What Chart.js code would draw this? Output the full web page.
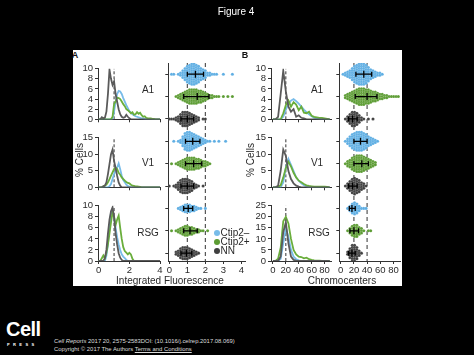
<!DOCTYPE html>
<html><head><meta charset="utf-8">
<script src="https://cdn.jsdelivr.net/npm/chart.js@4/dist/chart.umd.min.js"></script>
<style>
html,body{margin:0;padding:0;background:#000;}
#root{position:relative;width:474px;height:355px;background:#000;overflow:hidden;font-family:"Liberation Sans",Arial,Helvetica,sans-serif;}
canvas{position:absolute;}
.t{position:absolute;white-space:nowrap;line-height:1;color:#222;font-size:10px;}
.c{transform:translate(-50%,-50%);}
</style></head><body><div id="root">
<div style="position:absolute;left:73px;top:50px;width:329px;height:236px;background:#fff;"></div>
</div>
<script>
// ---------------- DATA ----------------
const categories = ['A1 Ctip2–','A1 Ctip2+','A1 NN','V1 Ctip2–','V1 Ctip2+','V1 NN','RSG Ctip2–','RSG Ctip2+','RSG NN'];
const regions = ['A1','V1','RSG'];
const seriesNames = ['Ctip2–','Ctip2+','NN'];

// Panel A histograms: Integrated Fluorescence bins
const binsA = [0,0.1,0.2,0.3,0.4,0.5,0.6,0.7,0.8,0.9,1.0,1.1,1.2,1.3,1.4,1.5,1.6,1.7,1.8,1.9,2.0,2.1,2.2,2.3,2.4,2.5,2.6,2.7,2.8,2.9,3.0,3.1,3.2,3.3,3.4,3.5,3.6,3.7,3.8,3.9,4.0];
const hA_A1_neg = [0,0,0,0,0,0,0,0,0,0, 1.5,3.5,5,5.6,5.5,5,4.2,3.5,2.8,2.2, 1.6,1.3,1,0.8,0.6,0.5,0.4,0.3,0.2,0.2, 0.1,0,0,0,0,0,0,0,0,0, 0];
const hA_A1_pos = [0,0,0,0.2,0,0,0,0,0,0.5, 3,3.5,4.3,4.2,4,3.5,3,2.6,2,1.8, 1.5,1.2,1.4,0.9,1,1.4,1.1,1.3,0.8,0.5, 0.6,0.3,0.2,0.2,0.2,0.1,0.1,0,0,0, 0];
const hA_A1_nn  = [0,0,0.4,0.2,0.3,1.5,5,9.8,8,6.8, 7.5,5,3.5,2,1,0.5,0.3,0.4,0.9,0.5, 0.2,0,0,0,0,0,0,0,0,0, 0,0,0,0,0,0,0,0,0,0, 0];
const hA_V1_neg = [0,0,0,0,0,0,0,0.3,1,2.5, 4,5,6,7.2,5.5,3.5,2.2,1.5,0.8,0.4, 0.2,0,0,0,0,0,0,0,0,0, 0,0,0,0,0,0,0,0,0,0, 0];
const hA_V1_pos = [0,0,0,0.3,0.5,0.8,1.5,2.5,3.5,4.5, 5.5,6,5.5,4.4,3.8,3,2.5,2,1.6,1.3, 1.2,0.8,0.5,0.4,0.3,0.3,0.2,0.1,0,0, 0,0,0,0,0,0,0,0,0,0, 0];
const hA_V1_nn  = [0,0,0,0.3,0.5,1.5,4,7,10,11.4, 8,5.8,3.5,1.5,0.5,0,0,0,0,0, 0,0,0,0,0,0,0,0,0,0, 0,0,0,0,0,0,0,0,0,0, 0];
const hA_RSG_neg= [0,0,0,0,0,1,3,6,8.8,8.5, 8,6,4.3,3,2,1.2,0.8,0.5,0.2,0, 0,0,0,0,0,0,0,0,0,0, 0,0,0,0,0,0,0,0,0,0, 0];
const hA_RSG_pos= [0,0,0.5,1,0.5,1.5,3,5,7,8.8, 8,6.5,7.5,8.2,6,4,2.5,1.8,1.5,1.2, 1.5,1.2,0.4,0,0,0,0,0,0,0, 0,0,0,0,0,0,0,0,0,0, 0];
const hA_RSG_nn = [0,0,0,0,0.5,2,5,7.5,9,9.7, 8,5,3,1.4,0.6,0.2,0,0,0,0, 0,0,0,0,0,0,0,0,0,0, 0,0,0,0,0,0,0,0,0,0, 0];

// Panel B histograms: Chromocenters bins
const binsB = [0,4,8,12,16,20,24,28,32,36,40,44,48,52,56,60,64,68,72,76,80,84,88];
const hB_A1_neg = [0,0,0,0,0.5,1.9,3,3.7,4,3.6, 3.1,2.5,1.9,1.4,1,0.6,0.3,0.2,0.1,0, 0,0,0];
const hB_A1_pos = [0,0,0,0,1.2,2.8,3.7,2.5,3.4,2.9, 1.8,2.5,1.3,1.2,1.5,0.7,0.5,0.4,0.3,0.3, 0.2,0.1,0];
const hB_A1_nn  = [0,0,0.5,5,9.6,5.5,2.5,1.5,2,0.5, 0.8,0.3,0.2,0,0,0,0,0,0,0, 0,0,0];
const hB_V1_neg = [0,0,0,0,1.5,6,8.6,6.8,4.9,3, 2,1.2,0.6,0.3,0,0,0,0,0,0, 0,0,0];
const hB_V1_pos = [0,0,0.2,0.6,3,5.8,7.7,6.3,4.4,3, 2,1.5,1,0.6,0.4,0.3,0.2,0.2,0.2,0.2, 0.2,0.1,0];
const hB_V1_nn  = [0,0,0.5,5,11.4,9.5,4.9,2.5,1.2,0.5, 0.2,0,0,0,0,0,0,0,0,0, 0,0,0];
const hB_RSG_neg= [0,0,0,1,8,15,11,5,2,0.8, 0.3,0,0,0,0,0,0,0,0,0, 0,0,0];
const hB_RSG_pos= [0,0,1,6,18,20,17,10,5,3, 2,1.8,1.2,1.5,0.8,0.5,0.3,0.2,0.2,0.1, 0.1,0,0];
const hB_RSG_nn = [0,0,0,2,13,17.5,8,2,0.5,0.2, 0,0,0,0,0,0,0,0,0,0, 0,0,0];

// Tick labels
const histYTicks = [[0,2,4,6,8,10],[0,5,10,15],[0,2,4,6,8,10]];
const histYTicksB = [[0,2,4,6,8,10],[0,5,10,15],[0,5,10,15,20,25]];
const histYMaxA = [10,15,10];
const histYMaxB = [10,15,25];
const xTicksHistA = [0,2,4];
const xTicksDotA = [0,1,2,3,4];
const xTicksB = [0,20,40,60,80];
const refLinesA = [1,2];
const refLinesB = [20,40];

// Dot (swarm) plots: number of stacked dots per value bin
const swarmStepA = 0.125, swarmStepB = 3.5;
const swA_A1neg = [0,1,1,0,1,2,4,6,8,9,10,10,9,8,6,5,4,2,2,1,1,1,0,0,1,0,0,0,1];
const swA_A1pos = [0,0,0,1,2,3,4,5,6,7,7,7,7,6,6,5,4,3,2,2,1,1,1,0,1,0,1,0,1];
const swA_A1nn  = [1,1,1,2,3,5,7,7,7,6,5,4,3,2,0,1,1];
const swA_V1neg = [0,0,1,0,1,2,5,8,9,9,8,7,6,5,4,3,2,1,1,0,1,0,1,0,0,1];
const swA_V1pos = [0,1,0,1,2,3,4,5,6,6,6,6,5,5,4,3,3,2,1];
const swA_V1nn  = [1,0,1,2,4,6,7,7,7,6,5,3,2,1,0,1];
const swA_RSGneg= [0,0,0,0,1,2,3,4,4,4,3,3,2,1,1,0,1];
const swA_RSGpos= [0,1,0,1,2,3,4,5,5,4,4,3,2,2,1,1,0,1];
const swA_RSGnn = [0,0,0,2,3,5,6,6,6,5,4,3,2,1];
const swB_A1neg = [0,1,2,3,4,6,8,9,10,10,10,9,7,5,4,3,2,2,1];
const swB_A1pos = [0,0,2,3,4,5,6,7,8,8,8,7,7,6,5,5,4,3,3,2,2,1,1,1,1,1];
const swB_A1nn  = [0,0,1,3,5,7,7,6,4,2,1,0,1,0,1];
const swB_V1neg = [0,0,1,3,5,7,8,9,9,9,8,7,5,4,3,2,1];
const swB_V1pos = [0,0,1,3,4,6,7,8,8,8,7,6,5,4,3,2];
const swB_V1nn  = [0,0,1,3,5,7,8,7,6,4,3,1];
const swB_RSGneg= [0,0,0,1,3,5,6,5,3,1,1,1];
const swB_RSGpos= [0,0,0,1,3,5,6,6,4,3,1,0,1,1];
const swB_RSGnn = [0,0,0,2,5,8,8,6,3,1];

// Error bars (mean, low, high) per category
const meanA = [1.45,1.55,1.0,1.3,1.35,1.0,1.05,1.15,0.95];
const lowA  = [1.0,0.8,0.65,0.9,0.9,0.65,0.8,0.8,0.65];
const highA = [1.9,2.2,1.35,1.7,1.8,1.35,1.3,1.55,1.25];
const meanB = [35,40,18,30,32,18,17,20,17];
const lowB  = [23,22,12,20,20,12,13,14,12];
const highB = [47,55,25,40,42,25,22,27,22];

// ---------------- STYLE ----------------
const FONT = '"Liberation Sans", Arial, Helvetica, sans-serif';
const LINE = ['#78bce9','#6aae3c','#5a5a5a'];
const DOT  = ['#5eaee3','#5c9c33','#3f3f3f'];
const AX = '#333';
const TXT = '#2a2a2a';
const root = document.getElementById('root');

function txt(s, x, y, o={}){
  const d=document.createElement('div');
  d.className='t'+(o.left?'':' c');
  d.textContent=s;
  d.style.left=x+'px'; d.style.top=y+'px';
  d.style.color=o.color||TXT;
  if(o.size) d.style.fontSize=o.size+'px';
  if(o.bold) d.style.fontWeight='bold';
  if(o.rot) d.style.transform='translate(-50%,-50%) rotate(-90deg)';
  if(o.css) Object.assign(d.style,o.css);
  root.appendChild(d); return d;
}
function mkCanvas(l,t,w,h){
  const c=document.createElement('canvas');
  c.width=w;c.height=h;c.style.left=l+'px';c.style.top=t+'px';c.style.width=w+'px';c.style.height=h+'px';
  root.appendChild(c);return c;
}
function axisOpts(min,max,ticks,showLabels,fit,isY,rev){
  return {type:'linear',min,max,reverse:!!rev,
    afterBuildTicks:s=>{s.ticks=ticks.map(v=>({value:v}));},
    afterFit:s=>{ if(isY) s.width=fit; else s.height=fit; },
    ticks:{display:showLabels,autoSkip:false,maxRotation:0,padding:isY?2:1,color:TXT,font:{size:9.5,family:FONT}},
    grid:{display:true,drawOnChartArea:false,drawTicks:true,tickLength:3,color:AX,lineWidth:1},
    border:{display:true,color:AX,width:1}};
}
const baseOpts = {responsive:false,animation:false,events:[],plugins:{legend:{display:false},tooltip:{enabled:false}}};

function hist(aL,aT,aW,aH,xMin,xMax,xTicks,showX,yMax,yTicks,bins,series,dashX){
  const WY=22,PT=7,PR=6,HX=showX?15:4;
  const c=mkCanvas(aL-WY,aT-PT,WY+aW+PR,PT+aH+HX);
  const ds=[{data:[{x:dashX,y:0},{x:dashX,y:yMax}],borderColor:'#333',borderWidth:1,borderDash:[3,2],pointRadius:0,order:9}];
  const ord=[3,2,1];
  series.forEach((v,k)=>ds.push({data:bins.map((b,i)=>({x:b,y:v[i]})),borderColor:LINE[k],borderWidth:1.8,pointRadius:0,tension:0,order:ord[k]}));
  new Chart(c,{type:'line',data:{datasets:ds},options:Object.assign({},baseOpts,{
    layout:{padding:{top:PT,right:PR,left:0,bottom:0}},
    scales:{x:axisOpts(xMin,xMax,xTicks,showX,HX,false),y:axisOpts(0,yMax,yTicks,true,WY,true)}})});
}
function swarm(step,counts,cat,dy){
  const pts=[];
  counts.forEach((n,i)=>{for(let k=0;k<n;k++) pts.push({x:i*step,y:cat+(k-(n-1)/2)*dy});});
  return pts;
}
function dotplot(aL,aT,aW,aH,xMin,xMax,xTicks,refs,sw,step,mean,low,high){
  const WY=4,PT=7,PR=6,HX=15, yMin=-0.5,yMax=8.35;
  const c=mkCanvas(aL-WY,aT-PT,WY+aW+PR,PT+aH+HX);
  const ds=[];
  refs.forEach(r=>ds.push({data:[{x:r,y:yMin},{x:r,y:yMax}],showLine:true,borderColor:'#444',borderWidth:1.1,borderDash:[4,3],pointRadius:0,order:9}));
  sw.forEach((cnt,i)=>ds.push({data:swarm(step,cnt,i,0.1),pointRadius:1.55,backgroundColor:DOT[i%3],borderColor:'rgba(255,255,255,0.35)',borderWidth:0.4,order:5}));
  mean.forEach((m,i)=>{
    ds.push({data:[{x:low[i],y:i},{x:high[i],y:i}],showLine:true,borderColor:'#000',borderWidth:1.3,pointRadius:0,order:1});
    ds.push({data:[{x:low[i],y:i},{x:high[i],y:i},{x:m,y:i}],pointStyle:'line',rotation:90,pointRadius:[2.5,2.5,3.5],borderColor:'#000',borderWidth:1.3,order:0});
  });
  new Chart(c,{type:'scatter',data:{datasets:ds},options:Object.assign({},baseOpts,{
    layout:{padding:{top:PT,right:PR,left:0,bottom:0}},
    scales:{x:axisOpts(xMin,xMax,xTicks,true,HX,false),y:axisOpts(yMin,yMax,[0,1,2,3,4,5,6,7,8],false,WY,true,true)}})});
}

// ---------------- LAYOUT ----------------
const rowTop=[68,137,205], rowH=[55,54,56];
const seriesA=[[hA_A1_neg,hA_A1_pos,hA_A1_nn],[hA_V1_neg,hA_V1_pos,hA_V1_nn],[hA_RSG_neg,hA_RSG_pos,hA_RSG_nn]];
const seriesB=[[hB_A1_neg,hB_A1_pos,hB_A1_nn],[hB_V1_neg,hB_V1_pos,hB_V1_nn],[hB_RSG_neg,hB_RSG_pos,hB_RSG_nn]];
for(let r=0;r<3;r++){
  hist(98,rowTop[r],62,rowH[r],-0.05,4,xTicksHistA,r===2,histYMaxA[r],histYTicks[r],binsA,seriesA[r],1);
  hist(271,rowTop[r],60,rowH[r],-3,90,xTicksB,r===2,histYMaxB[r],histYTicksB[r],binsB,seriesB[r],20);
}
dotplot(167,63,78,198,-0.055,4.2,xTicksDotA,refLinesA,
  [swA_A1neg,swA_A1pos,swA_A1nn,swA_V1neg,swA_V1pos,swA_V1nn,swA_RSGneg,swA_RSGpos,swA_RSGnn],swarmStepA,meanA,lowA,highA);
dotplot(338,63,62,198,-2.2,90,xTicksB,refLinesB,
  [swB_A1neg,swB_A1pos,swB_A1nn,swB_V1neg,swB_V1pos,swB_V1nn,swB_RSGneg,swB_RSGpos,swB_RSGnn],swarmStepB,meanB,lowB,highB);

// ---------------- TEXT ----------------
txt('Figure 4',236,12,{color:'#fff',size:10});
txt('A',75,55,{bold:true,size:9,color:'#111'});
txt('B',245,55,{bold:true,size:9,color:'#111'});
const regY=[90,163,233];
regions.forEach((g,i)=>{txt(g,148,regY[i],{size:10});txt(g,317+(i===2?2:0),regY[i],{size:10});});
txt('% Cells',80,160,{rot:true,size:10});
txt('% Cells',251,160,{rot:true,size:10});
txt('Integrated Fluorescence',170,281,{size:10});
txt('Chromocenters',342,281,{size:10});
const legY=[233,242,251];
seriesNames.forEach((s,i)=>{
  const d=document.createElement('div');
  Object.assign(d.style,{position:'absolute',left:(217-3)+'px',top:(legY[i]-3)+'px',width:'6px',height:'6px',borderRadius:'50%',background:[LINE[0],DOT[1],DOT[2]][i]});
  root.appendChild(d);
  txt(s,220.5,legY[i]-5.2,{left:true,size:10});
});
// footer
txt('Cell',6,319,{left:true,size:20,bold:true,color:'#fff',css:{letterSpacing:'-0.5px'}});
txt('PRESS',7,343,{left:true,size:4,bold:true,color:'#fff',css:{letterSpacing:'3.4px'}});
const f1=txt('',54,338.5,{left:true,size:5.9,color:'#ddd'});
f1.innerHTML='<i>Cell Reports</i> 2017 20, 2575-2583DOI: (10.1016/j.celrep.2017.08.069)';
const f2=txt('',54,346.5,{left:true,size:5.9,color:'#ddd'});
f2.innerHTML='Copyright © 2017 The Authors <span style="text-decoration:underline">Terms and Conditions</span>';
</script>
</body></html>
